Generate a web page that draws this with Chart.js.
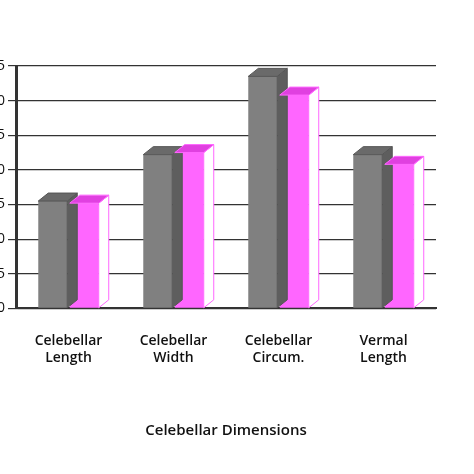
<!DOCTYPE html>
<html>
<head>
<script src="https://cdn.jsdelivr.net/npm/chart.js"></script>
<style>
body { margin: 0; background: #fff; overflow: hidden; }
#wrap { position: absolute; left: -14px; top: 0; width: 480px; height: 474px; }
</style>
</head>
<body>
<div id="wrap"><canvas id="chart"></canvas></div>
<script>
// Chart data
const categories = [['Celebellar', 'Length'], ['Celebellar', 'Width'], ['Celebellar', 'Circum.'], ['Vermal', 'Length']];
const seriesA = [15.5, 22.2, 33.5, 22.2];
const seriesB = [15.2, 22.5, 30.8, 20.8];

// fake 3D faces for the bars
const bar3d = {
	id: 'bar3d',
	afterDatasetsDraw(chart) {
		const ctx = chart.ctx;
		const dx = 10, dy = -8;
		chart.data.datasets.forEach((ds, i) => {
			chart.getDatasetMeta(i).data.forEach((bar) => {
				const l = bar.x - bar.width / 2, r = bar.x + bar.width / 2;
				const t = bar.y, b = bar.base;
				ctx.save();
				ctx.strokeStyle = ds.edgeColor;
				ctx.lineWidth = 1;
				ctx.fillStyle = ds.sideColor;
				ctx.beginPath();
				ctx.moveTo(r, t); ctx.lineTo(r + dx, t + dy); ctx.lineTo(r + dx, b + dy); ctx.lineTo(r, b);
				ctx.closePath(); ctx.fill(); ctx.stroke();
				ctx.fillStyle = ds.topColor;
				ctx.beginPath();
				ctx.moveTo(l, t); ctx.lineTo(l + dx, t + dy); ctx.lineTo(r + dx, t + dy); ctx.lineTo(r, t);
				ctx.closePath(); ctx.fill(); ctx.stroke();
				ctx.restore();
			});
		});
	},
};

let ctx = document.getElementById('chart').getContext('2d');
new Chart(ctx, {
	type: 'bar',
	data: {
		labels: categories,
		datasets: [
			{ data: seriesA, backgroundColor: '#808080', topColor: '#6a6a6a', sideColor: '#5e5e5e', edgeColor: '#555' },
			{ data: seriesB, backgroundColor: '#ff66ff', topColor: '#e040e0', sideColor: '#ffffff', edgeColor: '#ff66ff' },
		],
	},
	plugins: [bar3d],
	options: {
		responsive: true,
		maintainAspectRatio: false,
		animation: false,
		layout: { padding: { top: 66, right: 30, left: 0, bottom: 30 } },
		categoryPercentage: 0.6,
		barPercentage: 0.92,
		plugins: {
			legend: { display: false },
			tooltip: { enabled: false },
		},
		scales: {
			x: {
				grid: { display: false },
				border: { color: '#333', width: 2 },
				ticks: { color: '#111', font: { family: 'Open Sans', size: 14, weight: '600' }, padding: 16 },
				title: { display: true, text: 'Celebellar Dimensions', color: '#111', font: { family: 'Open Sans', size: 15, weight: '600' }, padding: { top: 40 } },
			},
			y: {
				min: 0,
				max: 35,
				ticks: { stepSize: 5, color: '#111', font: { family: 'Open Sans', size: 14 } },
				grid: { color: '#333', lineWidth: 1.2 },
				border: { color: '#333', width: 3 },
			},
		},
	},
});
</script>
</body>
</html>
